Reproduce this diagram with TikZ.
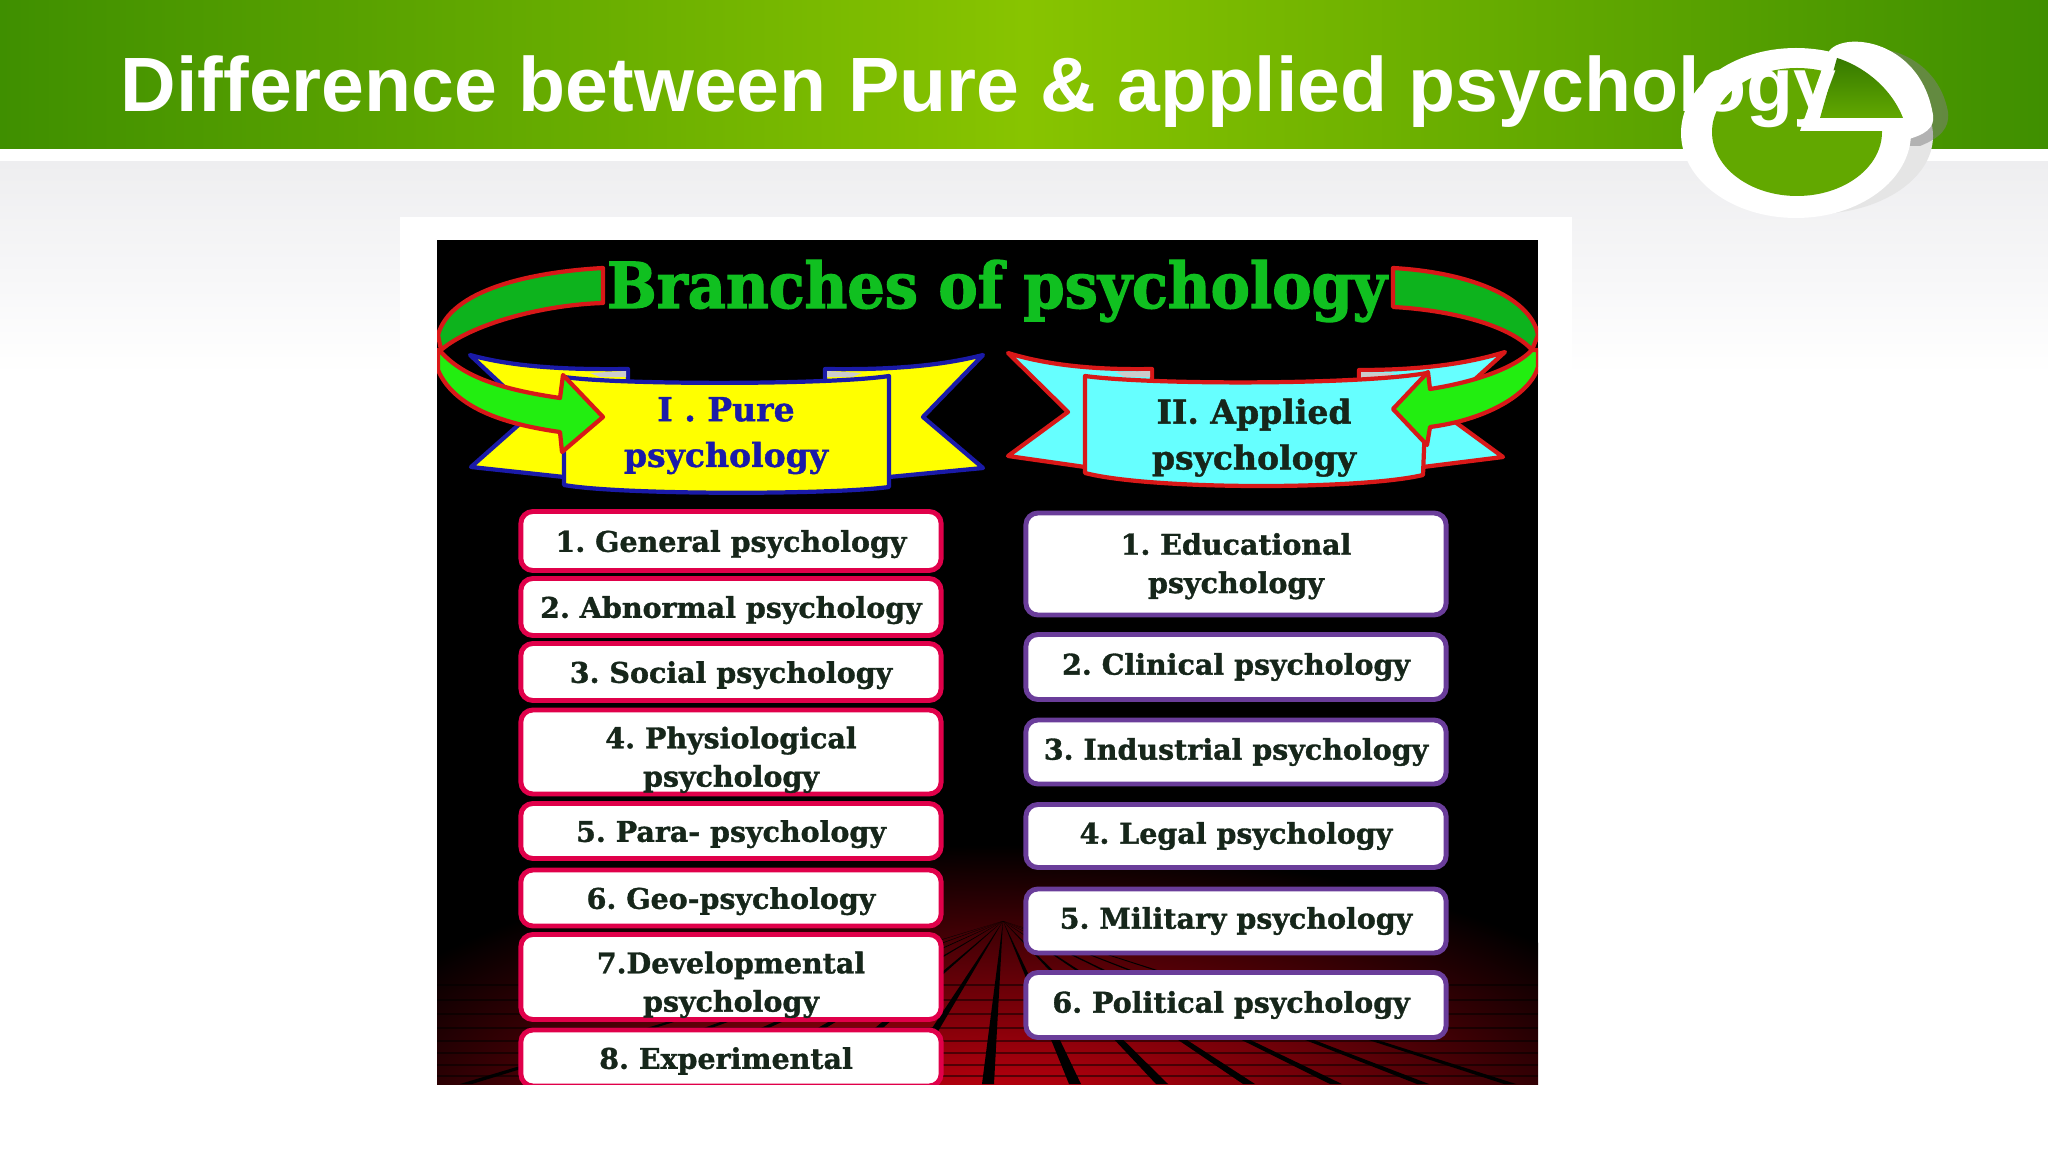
\documentclass[tikz,border=0pt]{standalone}
\usepackage{fontspec}
\setmainfont{Liberation Sans}
\newfontfamily\slabfont[FakeBold=1.2]{DejaVu Serif}
\newfontfamily\slabwide[FakeStretch=0.93,FakeBold=2]{DejaVu Serif}
\usepackage{tikz}
\definecolor{barDark}{HTML}{3F8F00}
\definecolor{barLight}{HTML}{88C400}
\definecolor{logoGreen}{HTML}{62A800}
\definecolor{pageGrey}{HTML}{EEEEF0}
\definecolor{ribbonDark}{HTML}{0DB31D}
\definecolor{ribbonLight}{HTML}{22EE10}
\definecolor{titleGreen}{HTML}{10C020}
\definecolor{bannerBlue}{HTML}{1A1AA8}
\definecolor{bannerRed}{HTML}{D81818}
\definecolor{bannerCyan}{HTML}{66FFFF}
\definecolor{bannerYellow}{HTML}{FFFF00}
\definecolor{boxRed}{HTML}{E0004A}
\definecolor{boxPurple}{HTML}{6A3D9A}
\definecolor{boxText}{HTML}{16261A}
\definecolor{floorRed}{HTML}{D80010}
\tikzstyle{ribbon}=[draw=bannerRed,line width=1.2pt,line join=round]
\tikzstyle{yellowpart}=[fill=bannerYellow,draw=bannerBlue,line width=1.2pt,line join=round]
\tikzstyle{heading}=[text=white,font=\fontsize{21.9pt}{26pt}\selectfont\bfseries,anchor=base west,inner sep=0pt]
\tikzstyle{bannertext}=[font=\slabfont\frenchspacing\fontsize{9.4pt}{13pt}\selectfont\bfseries,align=center,
    inner sep=0pt,text depth=0pt]
\tikzstyle{listbox}=[fill=white,rounded corners=3.4pt,line width=1.4pt,minimum width=4.2cm,
    inner sep=0pt,align=center,text=boxText,font=\slabfont\frenchspacing\fontsize{8.1pt}{10.9pt}\selectfont\bfseries]
\newcommand{\lowline}{\rule{0pt}{8.8pt}}
\newcommand{\lowlittle}{\rule{0pt}{7.4pt}}

\begin{document}
\begin{tikzpicture}[x=0.01cm,y=-0.01cm]
    \useasboundingbox (0,0) rectangle (2048,1152);

    % Page background and header bar
    \fill[white] (0,0) rectangle (2048,1152);
    \shade[top color=pageGrey,bottom color=white] (0,162) rectangle (2048,375);
    \shade[left color=barDark,right color=barDark,middle color=barLight] (0,0) rectangle (2048,149);

    % Logo: shadows, ring, body and the lifted wedge
    \fill[black!10] (1815,136) ellipse (118 and 78);
    \fill[black!50,opacity=0.5] (1815,128) -- (1842,62) .. controls (1850,37) and (1935,42) .. (1948,112)
        .. controls (1950,128) and (1940,138) .. (1920,146) -- (1898,146) -- cycle;
    \fill[white] (1796,133) ellipse (115 and 85);
    \fill[logoGreen] (1797,132) ellipse (85 and 64);
    \fill[white] (1800,131) -- (1827,55) .. controls (1835,30) and (1920,35) .. (1933,115)
        .. controls (1935,128) and (1925,135) .. (1905,140) -- (1883,131) -- cycle;
    \shade[top color=barDark!85!black,bottom color=logoGreen] (1837,58) -- (1820,118) -- (1903,118)
        .. controls (1890,85) and (1860,65) .. (1837,58) -- cycle;

    \node[heading] (heading) at (120,112) {Difference between Pure \& applied psychology};

    % White card with the black picture on it
    \fill[white] (400,217) rectangle (1572,1120);
    \fill[black] (437,240) rectangle (1538,1084);

    \begin{scope}
        \clip (437,240) rectangle (1538,1084);

        % Red floor: glow, rays and cross lines
        \shade[inner color=floorRed,outer color=black] (1000,1135) ellipse (720 and 290);
        \foreach \yy in {985,1000,1014,1028,1041,1053,1065,1076}
            \draw[black,line width=0.6pt,opacity=0.5] (437,\yy) -- (1538,\yy);
        \foreach \k in {-6,...,6}
            \fill[black] (1003,921) -- (988+87*\k-6,1084) -- (988+87*\k+6,1084) -- cycle;

        % Yellow banner
        \filldraw[yellowpart] (470,355) .. controls (510,366) and (560,370) .. (628,369) -- (628,400)
            -- (564,477) -- (471,467) -- (532,413) -- cycle;
        \filldraw[yellowpart] (983,355) .. controls (940,366) and (890,370) .. (825,369) -- (825,400)
            -- (889,477) -- (983,468) -- (923,417) -- cycle;
        \fill[black!20] (590,373) -- (626,371) -- (626,377) -- (600,377) -- cycle;
        \fill[black!20] (827,371) -- (862,373) -- (852,377) -- (827,377) -- cycle;
        \filldraw[yellowpart] (564,377)
            .. controls (620,385) and (830,385) .. (889,376) -- (889,487)
            .. controls (830,495) and (620,495) .. (564,485) -- cycle;

        % Cyan banner
        \filldraw[fill=bannerCyan,ribbon] (1008,353) .. controls (1050,366) and (1100,370) .. (1152,369)
            -- (1152,400) -- (1085,467) -- (1008,456) -- (1068,412) -- cycle;
        \filldraw[fill=bannerCyan,ribbon] (1505,352) .. controls (1460,366) and (1410,370) .. (1359,370)
            -- (1359,400) -- (1423,467) -- (1503,457) -- (1440,411) -- cycle;
        \fill[black!20] (1115,372) -- (1150,371) -- (1150,377) -- (1125,377) -- cycle;
        \fill[black!20] (1361,372) -- (1395,373) -- (1385,377) -- (1361,377) -- cycle;
        \filldraw[fill=bannerCyan,ribbon] (1085,376) .. controls (1150,385) and (1360,385) .. (1427,373)
            -- (1423,475) .. controls (1360,490) and (1150,490) .. (1085,473) -- cycle;

        % Green ribbon arrows
        \filldraw[fill=ribbonDark,ribbon] (603,268) .. controls (530,272) and (450,290) .. (438,335)
            -- (441,350) .. controls (470,325) and (540,305) .. (603,303) -- cycle;
        \filldraw[fill=ribbonLight,ribbon] (442,353) .. controls (465,378) and (505,390) .. (560,398)
            -- (563,375) -- (603,417) -- (562,452) -- (560,432)
            .. controls (510,425) and (455,410) .. (438,370) -- (438,350) -- cycle;
        \filldraw[fill=ribbonDark,ribbon] (1393,268) .. controls (1465,272) and (1530,295) .. (1538,335)
            -- (1532,350) .. controls (1510,325) and (1450,310) .. (1393,307) -- cycle;
        \filldraw[fill=ribbonLight,ribbon] (1532,350) .. controls (1515,368) and (1475,382) .. (1430,389)
            -- (1428,372) -- (1393,409) -- (1427,445) -- (1430,427)
            .. controls (1485,420) and (1530,395) .. (1538,367) -- (1538,350) -- cycle;

        % Left column: {number/centre y/height/text}
        \foreach \i/\yy/\hh/\txt in {
            1/541/59/{1. General psychology},
            2/607/57/{2. Abnormal psychology},
            3/672/57/{3. Social psychology},
            4/752/84/{\lowline 4. Physiological\\psychology},
            5/831/55/{5. Para- psychology},
            6/898/56/{6. Geo-psychology},
            7/977/85/{\lowline 7.Developmental\\psychology},
            8/1058/56/{8. Experimental}
        } {
            \node[listbox,draw=boxRed,text depth=0pt,minimum height=\hh*0.01cm] (pure\i) at (731,\yy) {\txt};
        }

        % Right column
        \foreach \i/\yy/\hh/\txt in {
            1/564/102/{\lowlittle 1. Educational\\psychology},
            2/667/65/{2. Clinical psychology},
            3/752/64/{3. Industrial psychology},
            4/836/63/{4. Legal psychology},
            5/921/64/{5. Military psychology},
            6/1005/65/{6. Political psychology}
        } {
            \node[listbox,draw=boxPurple,minimum height=\hh*0.01cm] (applied\i) at (1236,\yy) {\txt};
        }
    \end{scope}

    \node[font=\slabwide\fontsize{18pt}{20pt}\selectfont\bfseries,text=titleGreen,inner sep=0pt] (branches) at (997,291) {Branches of psychology};
    \node[bannertext,text=bannerBlue] (pure) at (726,432) {I . Pure\\psychology};
    \node[bannertext,text=boxText] (applied) at (1254,434) {II. Applied\\psychology};
\end{tikzpicture}
\end{document}
